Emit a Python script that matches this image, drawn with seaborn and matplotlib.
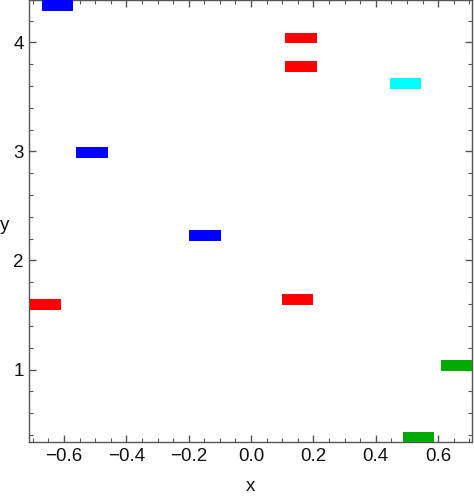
import numpy as np
import pandas as pd
import matplotlib
matplotlib.use("Agg")
import matplotlib.pyplot as plt
import seaborn as sns
from matplotlib.ticker import MultipleLocator

# rectangle centres
x_center = [-0.62, -0.51, 0.16, 0.16, 0.495, -0.148, -0.66, 0.15, 0.66, 0.538]
y_center = [4.34, 2.99, 4.04, 3.78, 3.625, 2.23, 1.60, 1.645, 1.035, 0.38]
group = ["blue", "blue", "red", "red", "cyan", "blue", "red", "red", "green", "green"]
box_w = 0.1
box_h = 0.1

palette = {"blue": "#0000ff", "red": "#ff0000", "cyan": "#00ffff", "green": "#00aa00"}

sns.set_style("ticks")
plt.rcParams["font.family"] = ["Liberation Sans", "DejaVu Sans"]

df = pd.DataFrame({"x": x_center, "y": y_center, "group": group})

fig = plt.figure(figsize=(4.74, 4.96), dpi=100)
ax = fig.add_axes([0.062, 0.108, 0.934, 0.892])

ax.bar(df["x"], box_h, width=box_w, bottom=df["y"] - box_h / 2,
       color=[palette[g] for g in df["group"]], edgecolor="none", zorder=3)

ax.set_xlim(-0.711, 0.709)
ax.set_ylim(0.332, 4.388)
ax.xaxis.set_major_locator(MultipleLocator(0.2))
ax.xaxis.set_minor_locator(MultipleLocator(0.05))
ax.yaxis.set_major_locator(MultipleLocator(1))
ax.yaxis.set_minor_locator(MultipleLocator(0.2))
ax.xaxis.set_major_formatter(plt.FuncFormatter(lambda v, p: f"{v:.1f}".replace("-", "\u2212")))

for s in ax.spines.values():
    s.set_color("#555555")
    s.set_linewidth(1.0)
ax.tick_params(which="both", direction="in", top=True, right=True, color="#555555",
               labelsize=13.5, labelcolor="#111111", pad=4)
ax.tick_params(which="major", length=5, width=1)
ax.tick_params(which="minor", length=3, width=0.8)

ax.set_xlabel("x", fontsize=13.5, color="#111111")
ax.set_ylabel("y", fontsize=13.5, color="#111111", rotation=0, va="center")
ax.xaxis.set_label_coords(0.5, -0.08)
ax.yaxis.set_label_coords(-0.055, 0.49)

fig.savefig("out.png", dpi=100)
